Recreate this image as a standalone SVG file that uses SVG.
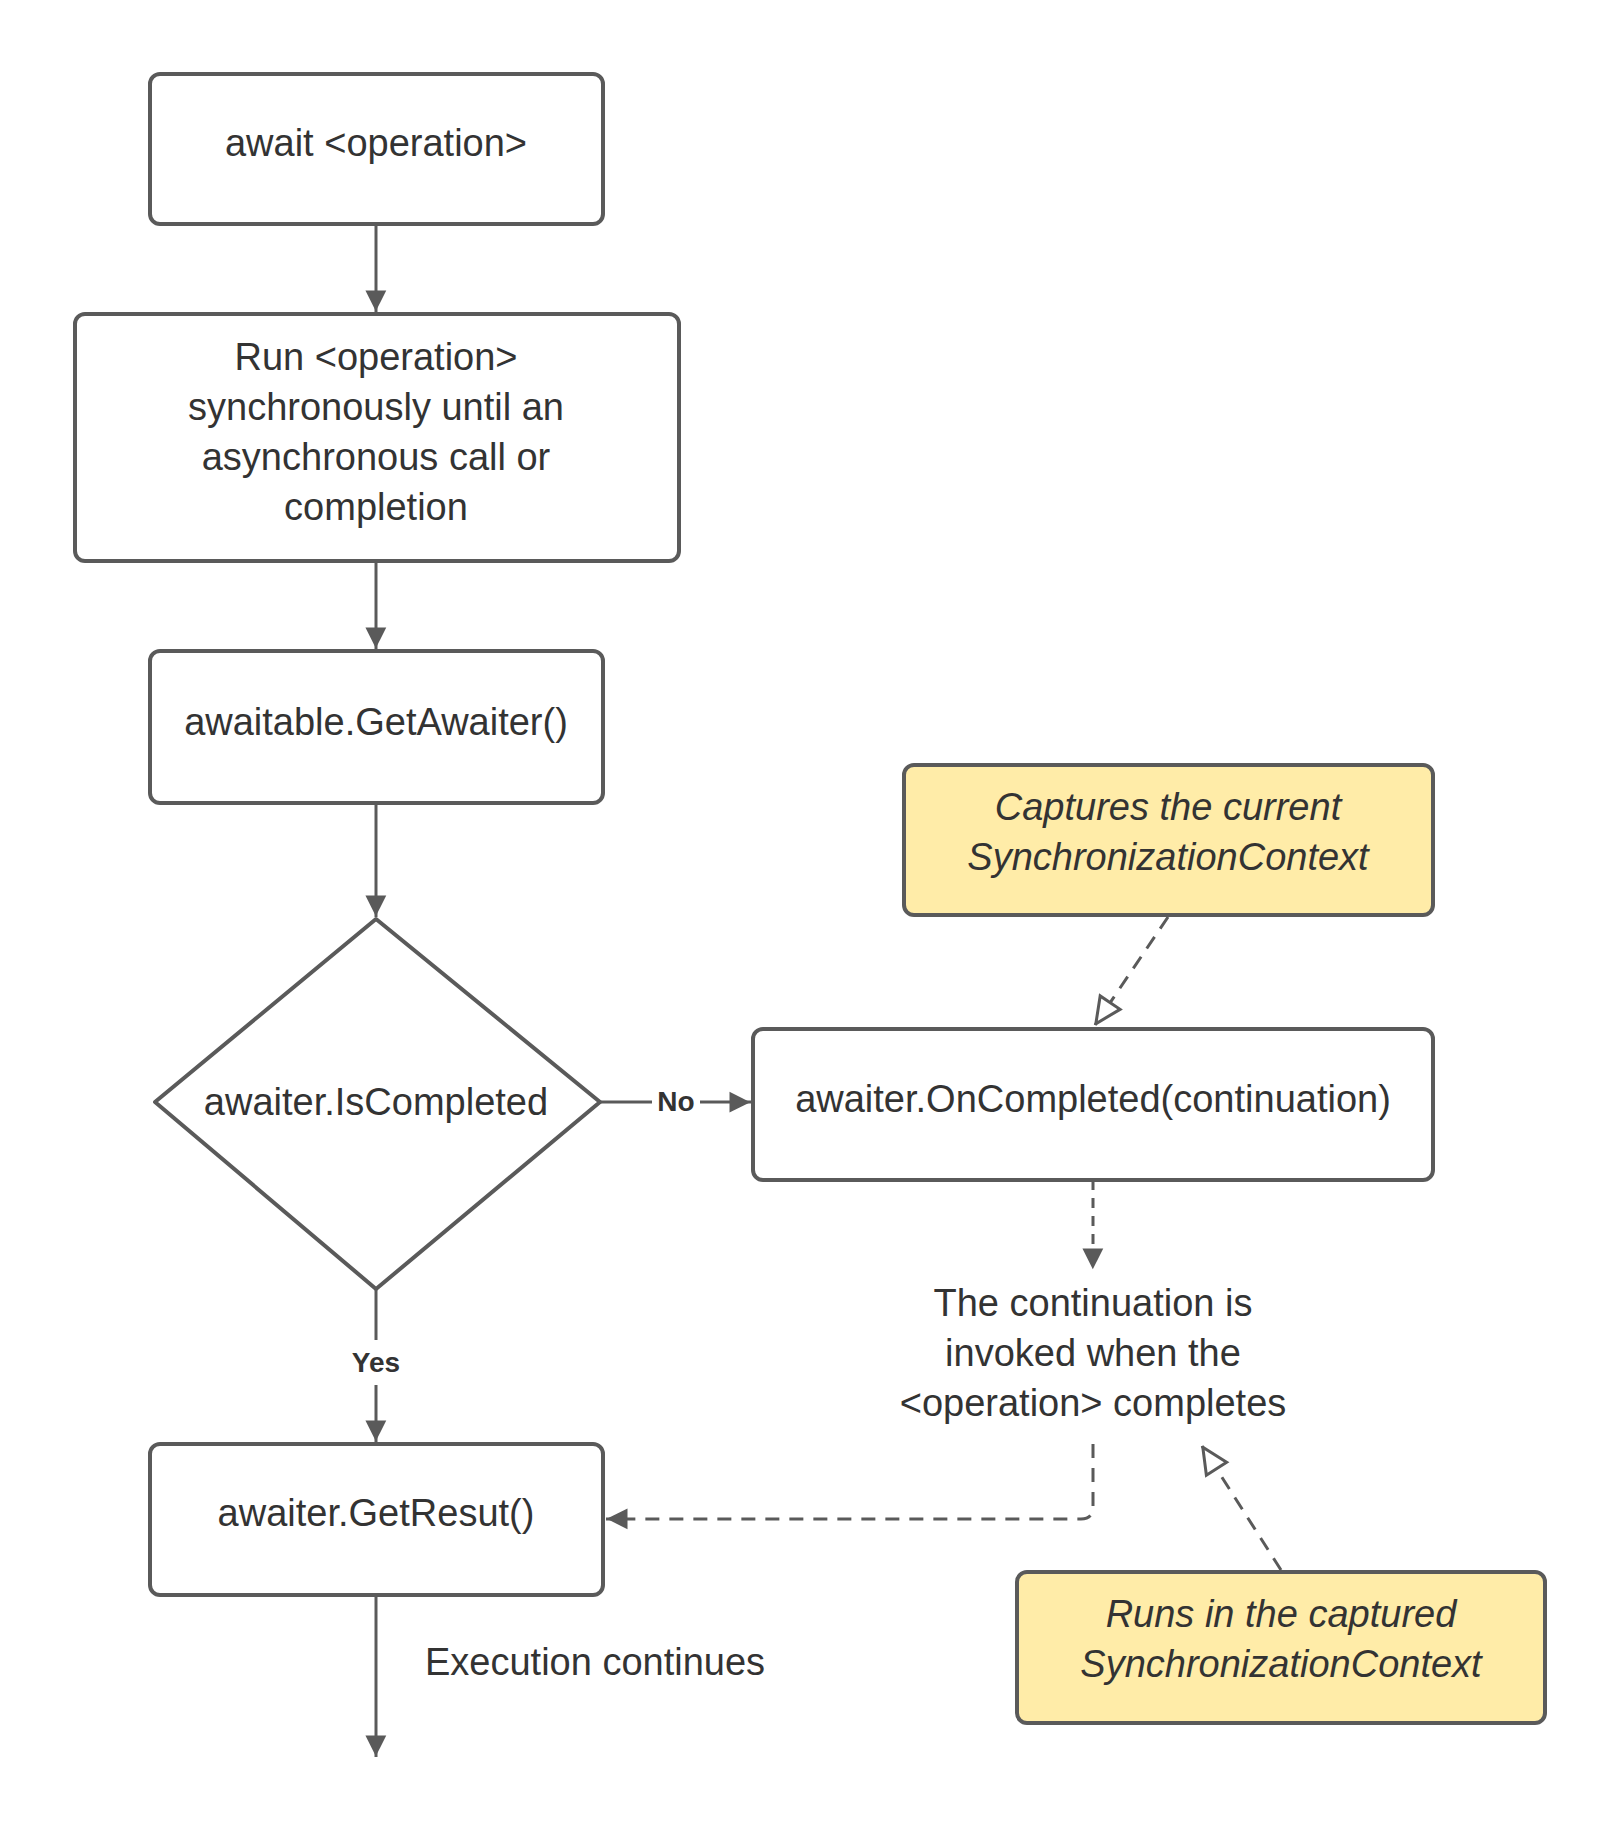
<svg xmlns="http://www.w3.org/2000/svg" width="1613" height="1823" viewBox="0 0 1613 1823">
<style>
.n{fill:#fff;stroke:#5a5a5a;stroke-width:4}
.y{fill:#ffeca8;stroke:#5a5a5a;stroke-width:4}
text{font-family:"Liberation Sans",Arial,sans-serif;font-size:38px;fill:#333;text-anchor:middle}
.i{font-style:italic}
.b{font-weight:bold;font-size:28px}
.c{fill:none;stroke:#5a5a5a;stroke-width:3}
.d{stroke-dasharray:14 10}
</style>
<defs>
<marker id="a" viewBox="0 0 10 10" refX="10" refY="5" markerWidth="8" markerHeight="8" markerUnits="userSpaceOnUse" orient="auto" style="overflow:visible"><path d="M0,0L10,5L0,10z" fill="#5a5a5a" transform="scale(2.6) translate(-6.5,-3)"/></marker>
<marker id="h" viewBox="0 0 10 10" refX="10" refY="5" markerWidth="30" markerHeight="30" markerUnits="userSpaceOnUse" orient="auto"><path d="M1,1L9.5,5L1,9z" fill="#fff" stroke="#5a5a5a" stroke-width="1"/></marker>
</defs>
<g id="connectors">
<path class="c" d="M376,224V312" marker-end="url(#a)"/>
<path class="c" d="M376,561V649" marker-end="url(#a)"/>
<path class="c" d="M376,803V917" marker-end="url(#a)"/>
<path class="c" d="M376,1289V1340M376,1385V1442" marker-end="url(#a)"/>
<text class="b" x="376" y="1372">Yes</text>
<path class="c" d="M600,1102H652M700,1102H751" marker-end="url(#a)"/>
<text class="b" x="676" y="1111">No</text>
<path class="c d" d="M1093,1180V1270" marker-end="url(#a)" style="stroke-dasharray:10 8"/>
<path class="c d" d="M1093,1444V1507Q1093,1519 1081,1519H606" marker-end="url(#a)"/>
<path class="c d" d="M1168,917L1095,1025" marker-end="url(#h)"/>
<path class="c d" d="M1281,1570L1202,1446" marker-end="url(#h)"/>
<path class="c" d="M376,1595V1757" marker-end="url(#a)"/>
</g>
<g id="n1"><rect class="n" x="150" y="74" width="453" height="150" rx="10"/><text x="376" y="156">await &lt;operation&gt;</text></g>
<g id="n2"><rect class="n" x="75" y="314" width="604" height="247" rx="10"/>
<text x="376" y="370">Run &lt;operation&gt;</text><text x="376" y="420">synchronously until an</text><text x="376" y="470">asynchronous call or</text><text x="376" y="520">completion</text></g>
<g id="n3"><rect class="n" x="150" y="651" width="453" height="152" rx="10"/><text x="376" y="735">awaitable.GetAwaiter()</text></g>
<g id="n4"><path class="n" d="M376,919L600,1102L376,1289L155,1102Z" stroke-linejoin="round"/><text x="376" y="1115">awaiter.IsCompleted</text></g>
<g id="n5"><rect class="n" x="753" y="1029" width="680" height="151" rx="10"/><text x="1093" y="1112">awaiter.OnCompleted(continuation)</text></g>
<g id="n6"><rect class="y" x="904" y="765" width="529" height="150" rx="10"/><text class="i" x="1168" y="820">Captures the current</text><text class="i" x="1168" y="870">SynchronizationContext</text></g>
<g id="n7"><text x="1093" y="1316">The continuation is</text><text x="1093" y="1366">invoked when the</text><text x="1093" y="1416">&lt;operation&gt; completes</text></g>
<g id="n8"><rect class="n" x="150" y="1444" width="453" height="151" rx="10"/><text x="376" y="1526">awaiter.GetResut()</text></g>
<g id="n9"><rect class="y" x="1017" y="1572" width="528" height="151" rx="10"/><text class="i" x="1281" y="1627">Runs in the captured</text><text class="i" x="1281" y="1677">SynchronizationContext</text></g>
<g id="n10"><text x="425" y="1675" style="text-anchor:start">Execution continues</text></g>
</svg>
